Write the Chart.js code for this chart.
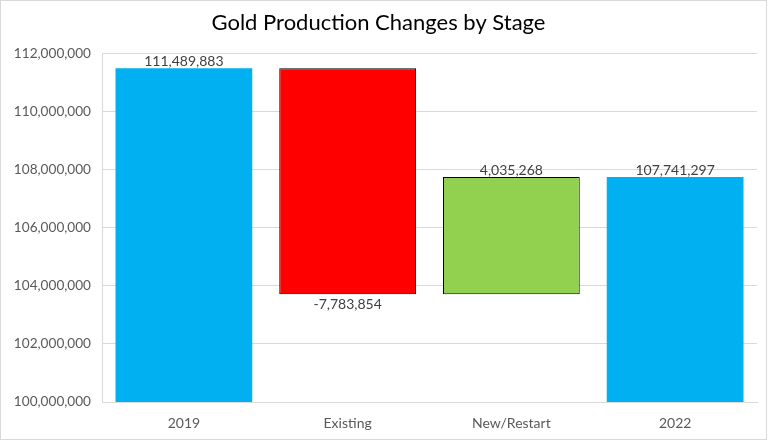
<!DOCTYPE html>
<html>
<head>
<meta charset="utf-8">
<script src="https://cdn.jsdelivr.net/npm/chart.js@4"></script>
<style>
  html, body { margin: 0; padding: 0; background: #fff; }
  #wrap { width: 768px; height: 441px; position: relative; }
</style>
</head>
<body>
<div id="wrap"><canvas id="chart"></canvas></div>
<script>
// Waterfall data
const categories = ['2019', 'Existing', 'New/Restart', '2022'];
const startValue = 111489883;
const changes = [-7783854, 4035268];
const endValue = 107741297;
const axisMin = 100000000;
const axisMax = 112000000;
const axisStep = 2000000;

const barColors = ['#00B0F0', '#FF0000', '#92D050', '#00B0F0'];
const barBorders = [0, 1, 1, 0];

// build floating ranges from the values above
const ranges = [[axisMin, startValue]];
const labelValues = [startValue];
let running = startValue;
changes.forEach(c => {
    ranges.push([Math.min(running, running + c), Math.max(running, running + c)]);
    labelValues.push(c);
    running += c;
});
ranges.push([axisMin, endValue]);
labelValues.push(endValue);

const fontFamily = 'Lato, "Open Sans", sans-serif';
const fmt = v => v.toLocaleString('en-US');

// draws the value labels and the outer frame
const labelPlugin = {
    id: 'waterfallLabels',
    afterDatasetsDraw(chart) {
        const ctx = chart.ctx;
        const meta = chart.getDatasetMeta(0);
        ctx.save();
        ctx.font = '14px ' + fontFamily;
        ctx.fillStyle = '#404040';
        ctx.textAlign = 'center';
        meta.data.forEach((bar, i) => {
            const v = labelValues[i];
            const top = Math.min(bar.y, bar.base);
            const bottom = Math.max(bar.y, bar.base);
            if (v < 0) {
                ctx.textBaseline = 'top';
                ctx.fillText(fmt(v), bar.x, bottom + 3);
            } else {
                ctx.textBaseline = 'alphabetic';
                ctx.fillText(fmt(v), bar.x, top - 2);
            }
        });
        ctx.restore();
    },
    afterDraw(chart) {
        const ctx = chart.ctx;
        ctx.save();
        ctx.strokeStyle = '#d9d9d9';
        ctx.lineWidth = 1;
        ctx.strokeRect(0.5, 0.5, chart.width - 2, chart.height - 2);
        ctx.restore();
    }
};

new Chart(document.getElementById('chart'), {
    type: 'bar',
    data: {
        labels: categories,
        datasets: [{
            data: ranges,
            backgroundColor: barColors,
            borderColor: '#000000',
            borderWidth: barBorders,
            borderSkipped: false,
            categoryPercentage: 1,
            barPercentage: 0.835
        }]
    },
    options: {
        responsive: true,
        maintainAspectRatio: false,
        animation: false,
        layout: { padding: { left: 0, right: 11, top: 0, bottom: 0 } },
        plugins: {
            legend: { display: false },
            tooltip: { enabled: false },
            title: {
                display: true,
                text: 'Gold Production Changes by Stage',
                color: '#000000',
                font: { family: fontFamily, size: 22, weight: 'normal' },
                padding: { top: 10, bottom: 17 }
            }
        },
        scales: {
            x: {
                grid: { display: false, drawTicks: false },
                border: { display: true, color: '#d9d9d9' },
                ticks: {
                    color: '#595959',
                    font: { family: fontFamily, size: 14 },
                    padding: 13
                },
                afterFit(scale) { scale.height = 39; }
            },
            y: {
                min: axisMin,
                max: axisMax,
                grid: { color: '#d9d9d9', drawTicks: false },
                border: { display: true, color: '#d9d9d9' },
                ticks: {
                    stepSize: axisStep,
                    color: '#595959',
                    font: { family: fontFamily, size: 13.6 },
                    padding: 11,
                    callback: v => fmt(v)
                },
                afterFit(scale) { scale.width = 102; }
            }
        }
    },
    plugins: [labelPlugin]
});
</script>
</body>
</html>
